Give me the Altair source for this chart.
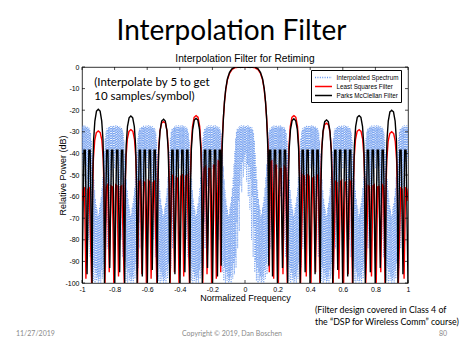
import altair as alt
import pandas as pd

# ---------------- data ----------------
series_names = ["Interpolated Spectrum", "Least Squares Filter", "Parks McClellan Filter"]
series_colors = ["#6394ee", "#ff0000", "#000000"]

x_ticks = [-1, -0.8, -0.6, -0.4, -0.2, 0, 0.2, 0.4, 0.6, 0.8, 1]
y_ticks = [0, -10, -20, -30, -40, -50, -60, -70, -80, -90, -100]

# Interpolated spectrum: one image, repeated at every image centre
blue_centers = [-1.0, -0.8, -0.6, -0.4, -0.2, 0.0, 0.2, 0.4, 0.6, 0.8, 1.0]
blue_offsets = [round(-0.1 + 0.0025 * k, 4) for k in range(81)]
blue_db = [-100, -68, -99, -65, -97, -63, -100, -60, -94, -56,
           -98, -51, -91, -45, -96, -39, -88, -33, -93, -30,
           -72, -28.5, -84, -29, -62, -28, -76, -27.5, -55, -28,
           -48, -27, -58, -28, -44, -27.5, -51, -27, -42, -28,
           -47, -27.5, -40, -27, -53, -28, -45, -27, -60, -27.5,
           -46, -28, -66, -27.5, -52, -28.5, -80, -28, -60, -29,
           -88, -30.5, -74, -34, -95, -40, -90, -46, -99, -52,
           -93, -57, -100, -61, -95, -64, -99, -66, -97, -69, -100]

# Parks McClellan filter (frequency, dB)
pm_neg = [(-1.000, -100), (-0.988, -38.5), (-0.980, -38.5), (-0.969, -96), (-0.958, -38.5), (-0.950, -38.5),
          (-0.938, -100), (-0.934, -50), (-0.929, -34), (-0.921, -25), (-0.911, -20.4), (-0.900, -19.6), (-0.889, -20.4), (-0.879, -25), (-0.871, -34), (-0.866, -50), (-0.862, -100),
          (-0.849, -38.5), (-0.841, -38.5), (-0.830, -93), (-0.819, -38.5), (-0.811, -38.5), (-0.799, -100), (-0.788, -38.5), (-0.780, -38.5), (-0.769, -95), (-0.758, -38.5), (-0.750, -38.5),
          (-0.738, -100), (-0.734, -52), (-0.729, -36.5), (-0.721, -27.5), (-0.711, -23.5), (-0.700, -22.7), (-0.689, -23.5), (-0.679, -27.5), (-0.671, -36.5), (-0.666, -52), (-0.662, -100),
          (-0.649, -38.5), (-0.641, -38.5), (-0.630, -97), (-0.619, -38.5), (-0.611, -38.5), (-0.599, -100), (-0.588, -38.5), (-0.580, -38.5), (-0.569, -94), (-0.558, -38.5), (-0.550, -38.5),
          (-0.538, -100), (-0.534, -55), (-0.529, -38.5), (-0.521, -29.5), (-0.511, -25), (-0.500, -24.2), (-0.489, -25), (-0.479, -29.5), (-0.471, -38.5), (-0.466, -55), (-0.462, -100),
          (-0.449, -38.5), (-0.441, -38.5), (-0.430, -96), (-0.419, -38.5), (-0.411, -38.5), (-0.399, -100), (-0.388, -38.5), (-0.380, -38.5), (-0.369, -95), (-0.358, -38.5), (-0.350, -38.5),
          (-0.338, -100), (-0.334, -55), (-0.329, -38), (-0.321, -29), (-0.311, -24.6), (-0.300, -23.8), (-0.289, -24.6), (-0.279, -29), (-0.271, -38), (-0.266, -55), (-0.262, -100),
          (-0.249, -38.5), (-0.241, -38.5), (-0.230, -93), (-0.219, -38.5), (-0.211, -38.5), (-0.199, -100), (-0.188, -38.5), (-0.180, -38.5), (-0.169, -97), (-0.158, -38.5), (-0.150, -38.5),
          (-0.146, -92), (-0.141, -40), (-0.137, -31), (-0.132, -23), (-0.126, -16), (-0.118, -10), (-0.108, -5.5), (-0.095, -2.5), (-0.080, -0.8), (-0.060, 0.0), (-0.030, -0.2)]
pm_pos = [(0.000, 0.0), (0.030, -0.2), (0.060, 0.0), (0.080, -0.8), (0.095, -2.5), (0.108, -5.5), (0.118, -10), (0.126, -16), (0.132, -23), (0.137, -31), (0.141, -40), (0.146, -92),
          (0.150, -38.5), (0.158, -38.5), (0.169, -97), (0.180, -38.5), (0.188, -38.5), (0.199, -100), (0.211, -38.5), (0.219, -38.5), (0.230, -93), (0.241, -38.5), (0.249, -38.5), (0.262, -100),
          (0.266, -55), (0.271, -38), (0.279, -29), (0.289, -24.8), (0.300, -24), (0.311, -24.8), (0.321, -29), (0.329, -38), (0.334, -55), (0.338, -100),
          (0.350, -38.5), (0.358, -38.5), (0.369, -95), (0.380, -38.5), (0.388, -38.5), (0.399, -100), (0.411, -38.5), (0.419, -38.5), (0.430, -96), (0.441, -38.5), (0.449, -38.5), (0.462, -100),
          (0.466, -55), (0.471, -38.5), (0.479, -29.5), (0.489, -25.3), (0.500, -24.5), (0.511, -25.3), (0.521, -29.5), (0.529, -38.5), (0.534, -55), (0.538, -100),
          (0.550, -38.5), (0.558, -38.5), (0.569, -94), (0.580, -38.5), (0.588, -38.5), (0.599, -100), (0.611, -38.5), (0.619, -38.5), (0.630, -97), (0.641, -38.5), (0.649, -38.5), (0.662, -100),
          (0.666, -52), (0.671, -36.5), (0.679, -27.5), (0.689, -23.3), (0.700, -22.5), (0.711, -23.3), (0.721, -27.5), (0.729, -36.5), (0.734, -52), (0.738, -100),
          (0.750, -38.5), (0.758, -38.5), (0.769, -95), (0.780, -38.5), (0.788, -38.5), (0.799, -100), (0.811, -38.5), (0.819, -38.5), (0.830, -93), (0.841, -38.5), (0.849, -38.5), (0.862, -100),
          (0.866, -50), (0.871, -34), (0.879, -25), (0.889, -20.8), (0.900, -20), (0.911, -20.8), (0.921, -25), (0.929, -34), (0.934, -50), (0.938, -100),
          (0.950, -38.5), (0.958, -38.5), (0.969, -96), (0.980, -38.5), (0.988, -38.5), (1.000, -100)]

# Least squares filter (frequency, dB)
ls_neg = [(-1.000, -62), (-0.993, -56.5), (-0.985, -56), (-0.976, -98), (-0.964, -56.5), (-0.956, -56),
          (-0.941, -100), (-0.936, -60), (-0.930, -42.5), (-0.922, -34), (-0.912, -30.4), (-0.900, -29.6), (-0.888, -30.4), (-0.878, -34), (-0.870, -42.5), (-0.864, -60), (-0.859, -100),
          (-0.850, -55.5), (-0.842, -54.5), (-0.833, -95), (-0.822, -55), (-0.814, -55.5), (-0.805, -100), (-0.793, -54.5), (-0.785, -55), (-0.776, -97), (-0.764, -55.5), (-0.756, -55),
          (-0.741, -100), (-0.736, -58), (-0.730, -42), (-0.722, -33.5), (-0.712, -29.8), (-0.700, -29), (-0.688, -29.8), (-0.678, -33.5), (-0.670, -42), (-0.664, -58), (-0.659, -100),
          (-0.650, -53.5), (-0.642, -52.5), (-0.633, -96), (-0.622, -53), (-0.614, -53.5), (-0.605, -100), (-0.593, -52.5), (-0.585, -53), (-0.576, -98), (-0.564, -53.5), (-0.556, -53),
          (-0.541, -100), (-0.536, -54), (-0.530, -38.5), (-0.522, -29.8), (-0.512, -26), (-0.500, -25.3), (-0.488, -26), (-0.478, -29.8), (-0.470, -38.5), (-0.464, -54), (-0.459, -100),
          (-0.450, -51), (-0.442, -50), (-0.433, -95), (-0.422, -51), (-0.414, -51.5), (-0.405, -100), (-0.393, -50.5), (-0.385, -50), (-0.376, -97), (-0.364, -50.5), (-0.356, -50),
          (-0.341, -100), (-0.336, -52), (-0.330, -36.5), (-0.322, -27.5), (-0.312, -23.3), (-0.300, -22.5), (-0.288, -23.3), (-0.278, -27.5), (-0.270, -36.5), (-0.264, -52), (-0.259, -100),
          (-0.250, -47), (-0.242, -46), (-0.233, -96), (-0.222, -47), (-0.214, -47), (-0.205, -100), (-0.193, -45.5), (-0.185, -45.5), (-0.176, -98), (-0.164, -43.5), (-0.156, -44),
          (-0.149, -95), (-0.144, -42), (-0.139, -33), (-0.133, -24), (-0.126, -16.5), (-0.118, -10.5), (-0.108, -6), (-0.095, -3), (-0.080, -1.2), (-0.060, -0.3), (-0.030, 0.0)]
ls_pos = [(0.000, 0.0), (0.030, 0.0), (0.060, -0.3), (0.080, -1.2), (0.095, -3), (0.108, -6), (0.118, -10.5), (0.126, -16.5), (0.133, -24), (0.139, -33), (0.144, -42), (0.149, -95),
          (0.156, -44), (0.164, -43.5), (0.176, -98), (0.185, -45.5), (0.193, -45.5), (0.205, -100), (0.214, -47), (0.222, -47), (0.233, -96), (0.242, -46), (0.250, -47), (0.259, -100),
          (0.264, -52), (0.270, -36.5), (0.278, -27.5), (0.288, -23.3), (0.300, -22.5), (0.312, -23.3), (0.322, -27.5), (0.330, -36.5), (0.336, -52), (0.341, -100),
          (0.356, -50), (0.364, -50.5), (0.376, -97), (0.385, -50), (0.393, -50.5), (0.405, -100), (0.414, -51.5), (0.422, -51), (0.433, -95), (0.442, -50), (0.450, -51), (0.459, -100),
          (0.464, -55), (0.470, -39), (0.478, -30.5), (0.488, -26.8), (0.500, -26), (0.512, -26.8), (0.522, -30.5), (0.530, -39), (0.536, -55), (0.541, -100),
          (0.556, -53), (0.564, -53.5), (0.576, -98), (0.585, -53), (0.593, -52.5), (0.605, -100), (0.614, -53.5), (0.622, -53), (0.633, -96), (0.642, -52.5), (0.650, -53.5), (0.659, -100),
          (0.664, -58), (0.670, -42), (0.678, -33.5), (0.688, -29.8), (0.700, -29), (0.712, -29.8), (0.722, -33.5), (0.730, -42), (0.736, -58), (0.741, -100),
          (0.756, -55), (0.764, -55.5), (0.776, -97), (0.785, -55), (0.793, -54.5), (0.805, -100), (0.814, -55.5), (0.822, -55), (0.833, -95), (0.842, -54.5), (0.850, -55.5), (0.859, -100),
          (0.864, -60), (0.870, -43), (0.878, -34.5), (0.888, -30.8), (0.900, -30), (0.912, -30.8), (0.922, -34.5), (0.930, -43), (0.936, -60), (0.941, -100),
          (0.956, -56), (0.964, -56.5), (0.976, -98), (0.985, -56), (0.993, -56.5), (1.000, -62)]

note_lines = ["(Interpolate by 5 to get", "10 samples/symbol)"]
note_f = [-0.925, -0.925]
note_db = [-7.3, -13.8]

# ---------------- build table ----------------
rows = []
blue_pts = []
for c in blue_centers:
    for o, d in zip(blue_offsets, blue_db):
        f = round(c + o, 4)
        if -1.0 <= f <= 1.0:
            blue_pts.append((f, d))
for name, pts in [(series_names[0], blue_pts),
                  (series_names[1], ls_neg + ls_pos),
                  (series_names[2], pm_neg + pm_pos)]:
    for i, (f, d) in enumerate(pts):
        rows.append({"series": name, "f": f, "db": d, "i": i})
df = pd.DataFrame(rows)

W, H = 326, 216
AX_FONT = "Liberation Sans"

x_scale = alt.Scale(domain=[-1, 1], nice=False, zero=False)
y_scale = alt.Scale(domain=[-100, 0], nice=False, zero=False)
x_axis = alt.Axis(values=x_ticks, labelExpr="'' + round(datum.value * 10) / 10", ticks=False, grid=False,
                  domain=False, labelFont=AX_FONT, labelFontSize=7, labelColor="#000", labelPadding=2,
                  labelFlush=False, title="Normalized Frequency", titleFont=AX_FONT, titleFontSize=9,
                  titleFontWeight="normal", titleColor="#000", titleY=14, titleBaseline="middle")
y_axis = alt.Axis(values=y_ticks, labelExpr="'' + datum.value", ticks=False, grid=False, domain=False,
                  labelFont=AX_FONT, labelFontSize=7, labelColor="#000", labelPadding=3, labelFlush=False,
                  title="Relative Power (dB)", titleFont=AX_FONT, titleFontSize=9, titleFontWeight="normal",
                  titleColor="#000", titleX=-20, titleY=H / 2, titleBaseline="middle")

X = alt.X("f:Q", scale=x_scale, axis=x_axis)
Y = alt.Y("db:Q", scale=y_scale, axis=y_axis)

legend = alt.Legend(title=None, orient="none", legendX=229, legendY=3, fillColor="white",
                    strokeColor="black", padding=2.5, labelFont=AX_FONT, labelFontSize=6.3,
                    labelColor="black", symbolType="M-2,0H2", symbolSize=72, symbolStrokeWidth=1.4,
                    symbolOffset=5, labelOffset=8, rowPadding=-2.3)
color = alt.Color("series:N", scale=alt.Scale(domain=series_names, range=series_colors), legend=legend)
dash = alt.StrokeDash("series:N", scale=alt.Scale(domain=series_names, range=[[1, 1.4], [1, 0], [1, 0]]),
                      legend=legend)

base = alt.Chart(df)


def line_layer(name, width):
    return base.transform_filter(alt.datum.series == name).mark_line(
        strokeWidth=width, clip=True, strokeJoin="miter", strokeMiterLimit=4
    ).encode(x=X, y=Y, color=color, strokeDash=dash, order="i:Q")


blue = line_layer(series_names[0], 0.8)
red = line_layer(series_names[1], 1.4)
black = line_layer(series_names[2], 1.4)

xt = alt.Chart(pd.DataFrame({"f": x_ticks}))
yt = alt.Chart(pd.DataFrame({"db": y_ticks}))
tick_style = dict(color="black", strokeWidth=0.7)
ticks = [
    xt.mark_rule(**tick_style).encode(x=X, y=alt.value(0), y2=alt.value(3)),
    xt.mark_rule(**tick_style).encode(x=X, y=alt.value(H), y2=alt.value(H - 3)),
    yt.mark_rule(**tick_style).encode(y=Y, x=alt.value(0), x2=alt.value(3)),
    yt.mark_rule(**tick_style).encode(y=Y, x=alt.value(W), x2=alt.value(W - 3)),
]

note = alt.Chart(pd.DataFrame({"t": note_lines, "f": note_f, "db": note_db})).mark_text(
    align="left", baseline="middle", font="Lato", fontSize=11.5, color="#000"
).encode(x=X, y=Y, text="t:N")


def label(text, x, y, size, font="Lato", align="left", color="#000"):
    return alt.Chart(pd.DataFrame({"t": [text]})).mark_text(
        align=align, baseline="alphabetic", font=font, fontSize=size, color=color
    ).encode(text="t:N", x=alt.value(x), y=alt.value(y))


texts = [
    label("Interpolation Filter", 149.5, -27, 28, align="center"),
    label("Interpolation Filter for Retiming", 163, -5.5, 10.2, font=AX_FONT, align="center"),
    label("(Filter design covered in Class 4 of", 233, 246, 8.8),
    label("the \u201cDSP for Wireless Comm\u201d course)", 233, 257.5, 8.8),
    label("11/27/2019", -66, 269, 7, color="#8a8a8a"),
    label("Copyright \u00a9 2019, Dan Boschen", 150, 269, 7, align="center", color="#8a8a8a"),
    label("80", 365, 269, 7, align="right", color="#8a8a8a"),
]

chart = alt.layer(blue, red, black, *ticks, note, *texts).properties(
    width=W, height=H,
    padding={"left": 82, "top": 67, "right": 66, "bottom": 65},
    autosize=alt.AutoSizeParams(type="none"),
    background="white",
).configure_view(stroke="black", strokeWidth=0.8)

chart.save("out.html", embed_options={"renderer": "svg", "actions": False})
